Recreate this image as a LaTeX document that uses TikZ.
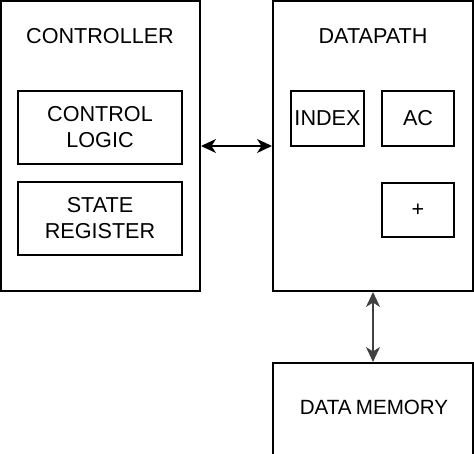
\documentclass[tikz,border=0pt]{standalone}
\usepackage{fontspec}
\setmainfont{Liberation Sans}
\usetikzlibrary{arrows.meta}
\begin{document}
\begin{tikzpicture}[x=1pt,y=-1pt,
  frame/.style={draw, line width=2pt, inner sep=0pt},
  inbox/.style={draw, line width=1.6pt, inner sep=0pt},
  lbl/.style={font=\fontsize{21.6}{26}\selectfont, align=center, inner sep=0pt},
  conn/.style={line width=1.3pt, {Stealth[length=15pt,width=14pt,inset=4.5pt]}-{Stealth[length=15pt,width=14pt,inset=4.5pt]}}]
\useasboundingbox (0,0) rectangle (474,454);
\fill[white] (0,0) rectangle (474,454);
% frames
\node[frame, minimum width=199pt, minimum height=290pt] (ctrl) at (100.5,146) {};
\node[frame, minimum width=200pt, minimum height=290pt] (dp) at (373,146) {};
\node[frame, minimum width=200pt, minimum height=110pt] (mem) at (373,418) {};
% titles
\node[lbl] (ctrlT) at (100,36) {CONTROLLER};
\node[lbl] (dpT) at (373,36) {DATAPATH};
\node[lbl, font=\fontsize{20.6}{25}\selectfont] (memT) at (374,407) {DATA\kern-1.5pt{} MEMORY};
% inner boxes
\node[inbox, minimum width=164pt, minimum height=73pt, lbl] (cl) at (100,127.5) {CONTROL\\[0pt]LOGIC};
\node[inbox, minimum width=164pt, minimum height=73pt, lbl] (sr) at (100,218.5) {STATE\\[0pt]REGISTER};
\node[inbox, minimum width=73pt, minimum height=55pt, lbl] (idx) at (327.5,118.5) {INDEX};
\node[inbox, minimum width=72pt, minimum height=55pt, lbl] (ac) at (418,118.5) {AC};
\node[inbox, minimum width=72pt, minimum height=54pt, lbl] (plus) at (418,210) {+};
% connectors
\coordinate (a1) at (ctrl.east |- 0,146);
\coordinate (a2) at (dp.west |- 0,146);
\draw[conn] (a1) -- (a2);
\draw[conn, draw=black!75, fill=black] (dp.south) -- (mem.north);
\end{tikzpicture}
\end{document}
